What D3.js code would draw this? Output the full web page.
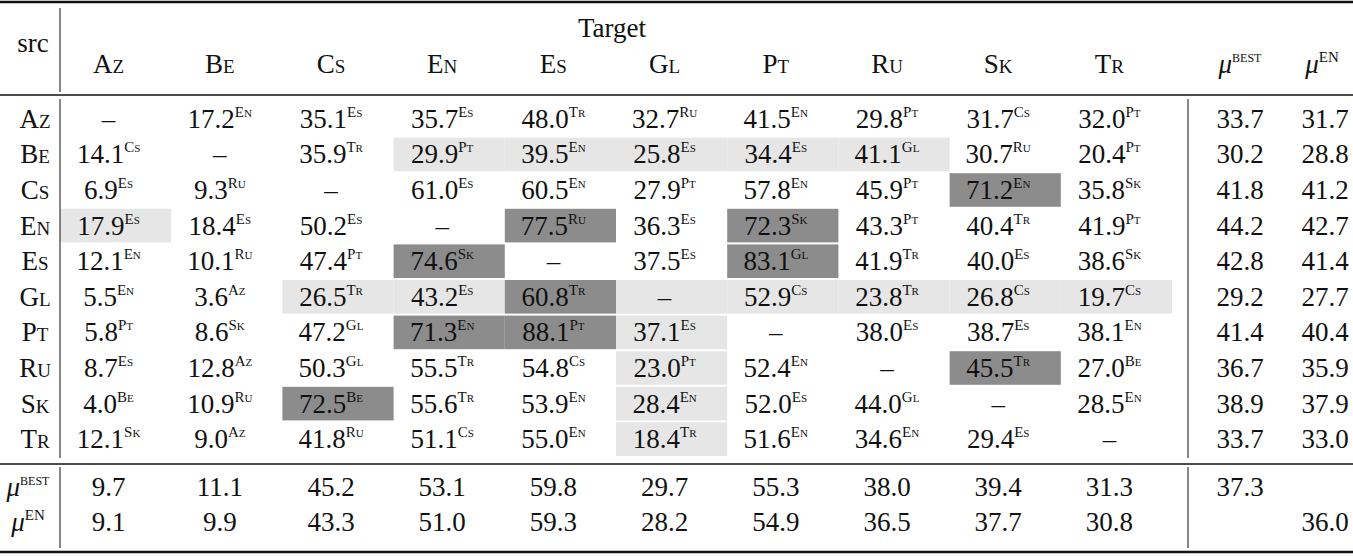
<!DOCTYPE html>
<html>
<head>
<meta charset="utf-8">
<script src="https://cdnjs.cloudflare.com/ajax/libs/d3/7.8.5/d3.min.js"></script>
<style>
  body { margin: 0; background: #fff; }
  text { font-family: "Liberation Serif", "DejaVu Serif", serif; fill: #111; }
  .sc { font-variant: small-caps; }
</style>
</head>
<body>
<svg id="chart" width="1353" height="557"></svg>
<script>
var langs = ["Az", "Be", "Cs", "En", "Es", "Gl", "Pt", "Ru", "Sk", "Tr"];

// each cell: "value:source"; "-" = diagonal
var rows = [
  ["-", "17.2:En", "35.1:Es", "35.7:Es", "48.0:Tr", "32.7:Ru", "41.5:En", "29.8:Pt", "31.7:Cs", "32.0:Pt"],
  ["14.1:Cs", "-", "35.9:Tr", "29.9:Pt", "39.5:En", "25.8:Es", "34.4:Es", "41.1:Gl", "30.7:Ru", "20.4:Pt"],
  ["6.9:Es", "9.3:Ru", "-", "61.0:Es", "60.5:En", "27.9:Pt", "57.8:En", "45.9:Pt", "71.2:En", "35.8:Sk"],
  ["17.9:Es", "18.4:Es", "50.2:Es", "-", "77.5:Ru", "36.3:Es", "72.3:Sk", "43.3:Pt", "40.4:Tr", "41.9:Pt"],
  ["12.1:En", "10.1:Ru", "47.4:Pt", "74.6:Sk", "-", "37.5:Es", "83.1:Gl", "41.9:Tr", "40.0:Es", "38.6:Sk"],
  ["5.5:En", "3.6:Az", "26.5:Tr", "43.2:Es", "60.8:Tr", "-", "52.9:Cs", "23.8:Tr", "26.8:Cs", "19.7:Cs"],
  ["5.8:Pt", "8.6:Sk", "47.2:Gl", "71.3:En", "88.1:Pt", "37.1:Es", "-", "38.0:Es", "38.7:Es", "38.1:En"],
  ["8.7:Es", "12.8:Az", "50.3:Gl", "55.5:Tr", "54.8:Cs", "23.0:Pt", "52.4:En", "-", "45.5:Tr", "27.0:Be"],
  ["4.0:Be", "10.9:Ru", "72.5:Be", "55.6:Tr", "53.9:En", "28.4:En", "52.0:Es", "44.0:Gl", "-", "28.5:En"],
  ["12.1:Sk", "9.0:Az", "41.8:Ru", "51.1:Cs", "55.0:En", "18.4:Tr", "51.6:En", "34.6:En", "29.4:Es", "-"]
];
// 0 none, 1 light grey, 2 dark grey
var shade = [
  "0000000000", "0001111100", "0000000020", "1000202000", "0002002000",
  "0011211111", "0002210000", "0000010020", "0020010000", "0000010000"
];
var rowBest = ["33.7", "30.2", "41.8", "44.2", "42.8", "29.2", "41.4", "36.7", "38.9", "33.7"];
var rowEn = ["31.7", "28.8", "41.2", "42.7", "41.4", "27.7", "40.4", "35.9", "37.9", "33.0"];
var colBest = ["9.7", "11.1", "45.2", "53.1", "59.8", "29.7", "55.3", "38.0", "39.4", "31.3"];
var colEn = ["9.1", "9.9", "43.3", "51.0", "59.3", "28.2", "54.9", "36.5", "37.7", "30.8"];
var allBest = "37.3", allEn = "36.0";

var svg = d3.select("#chart");
var x = d3.scaleBand().domain(langs).range([50, 1162]);
var y = d3.scaleBand().domain(langs).range([101, 457]);
var cx = function (d) { return x(d) + x.bandwidth() / 2 + 3; };
var cy = function (d) { return y(d) + y.bandwidth() / 2; };
var fs = 27, sup = 15;

// shading
rows.forEach(function (r, i) {
  langs.forEach(function (t, j) {
    var s = shade[i][j];
    if (s === "0") return;
    svg.append("rect")
      .attr("x", x(t) + 10).attr("y", y(langs[i]) + 1)
      .attr("width", x.bandwidth()).attr("height", y.bandwidth() - 2)
      .attr("fill", s === "1" ? "#e6e6e6" : "#8c8c8c");
  });
});

function cell(px, py, val, src) {
  var t = svg.append("text").attr("x", px).attr("y", py + 9)
    .attr("text-anchor", "middle").style("font-size", fs + "px");
  if (val === "-") { t.text("–"); return; }
  t.append("tspan").text(val);
  if (src) {
    t.append("tspan").attr("class", "sc").attr("dy", -11)
      .style("font-size", sup + "px").text(src);
  }
}
function mu(px, py, supText) {
  var t = svg.append("text").attr("x", px).attr("y", py + 9)
    .attr("text-anchor", "middle").style("font-size", fs + "px");
  t.append("tspan").style("font-style", "italic").text("μ");
  t.append("tspan").attr("class", "sc").attr("dy", -11)
    .style("font-size", (supText === "best" ? 12 : sup) + "px").text(supText === "best" ? "BEST" : "EN");
}
function lang(px, py, name) {
  svg.append("text").attr("class", "sc").attr("x", px).attr("y", py + 9)
    .attr("text-anchor", "middle").style("font-size", fs + "px").text(name);
}

// header
svg.append("text").attr("x", 612).attr("y", 37).attr("text-anchor", "middle")
  .style("font-size", fs + "px").text("Target");
svg.append("text").attr("x", 33).attr("y", 52).attr("text-anchor", "middle")
  .style("font-size", fs + "px").text("src");
langs.forEach(function (l) { lang(cx(l), 64, l); });
mu(1240, 64, "best");
mu(1322, 64, "en");

// body
rows.forEach(function (r, i) {
  var py = cy(langs[i]);
  lang(35, py, langs[i]);
  r.forEach(function (c, j) {
    var p = c.split(":");
    cell(cx(langs[j]), py, p[0], p[1]);
  });
  cell(1240, py, rowBest[i]);
  cell(1325, py, rowEn[i]);
});

// footer
mu(28, 487, "best");
mu(28, 522, "en");
langs.forEach(function (l, j) {
  cell(cx(l), 487, colBest[j]);
  cell(cx(l), 522, colEn[j]);
});
cell(1240, 487, allBest);
cell(1325, 522, allEn);

// rules
var line = function (x1, y1, x2, y2, w) {
  svg.append("line").attr("x1", x1).attr("y1", y1).attr("x2", x2).attr("y2", y2)
    .attr("stroke", "#111").attr("stroke-width", w);
};
line(0, 2, 1353, 2, 2.5);
line(0, 95, 1353, 95, 1.5);
line(0, 464, 1353, 464, 1.5);
line(0, 552, 1353, 552, 2.5);
line(60, 8, 60, 92, 1);
line(60, 99, 60, 458, 1);
line(60, 467, 60, 548, 1);
line(1188, 99, 1188, 458, 1);
line(1188, 467, 1188, 548, 1);
</script>
</body>
</html>
